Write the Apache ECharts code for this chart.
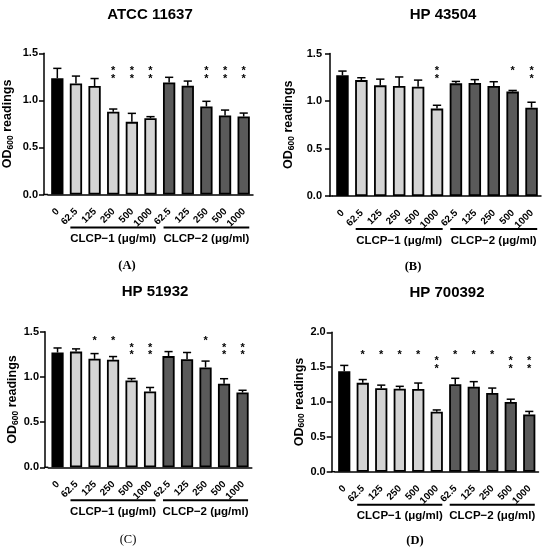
<!DOCTYPE html>
<html>
<head>
<meta charset="utf-8">
<script src="https://cdn.jsdelivr.net/npm/echarts@6/dist/echarts.min.js"></script>
<style>
html, body { margin: 0; padding: 0; background: #fff; }
#chart { width: 550px; height: 549px; }
</style>
</head>
<body>
<div id="chart"></div>
<script>
// doses on the x axis (0 = control, then CLCP-1 and CLCP-2 series)
var doses = ['0', '62.5', '125', '250', '500', '1000', '62.5', '125', '250', '500', '1000'];
var groupLabels = ['CLCP\u22121 (\u03bcg/ml)', 'CLCP\u22122 (\u03bcg/ml)'];
var groupRanges = [[1, 5], [6, 10]];
var titles = ['ATCC 11637', 'HP 43504', 'HP 51932', 'HP 700392'];
var panelTags = ['(A)', '(B)', '(C)', '(D)'];

// OD600 means and error (SD) per strain
var meanA = [1.235, 1.18, 1.152, 0.88, 0.772, 0.81, 1.19, 1.155, 0.935, 0.84, 0.828];
var errA  = [0.105, 0.078, 0.08, 0.028, 0.09, 0.017, 0.055, 0.05, 0.055, 0.057, 0.037];
var starsA = ['', '', '', '**', '**', '**', '', '', '**', '**', '**'];

var meanB = [1.27, 1.22, 1.165, 1.158, 1.15, 0.92, 1.186, 1.19, 1.158, 1.099, 0.93];
var errB  = [0.045, 0.025, 0.065, 0.095, 0.07, 0.035, 0.02, 0.035, 0.045, 0.012, 0.057];
var starsB = ['', '', '', '', '', '**', '', '', '', '*', '**'];

var meanC = [1.27, 1.28, 1.2, 1.19, 0.96, 0.838, 1.23, 1.195, 1.105, 0.925, 0.827];
var errC  = [0.05, 0.03, 0.058, 0.035, 0.022, 0.045, 0.05, 0.075, 0.07, 0.055, 0.025];
var starsC = ['', '', '*', '*', '**', '**', '', '', '*', '**', '**'];

var meanD = [1.44, 1.275, 1.197, 1.19, 1.187, 0.861, 1.255, 1.22, 1.13, 1.0, 0.82];
var errD  = [0.085, 0.047, 0.045, 0.035, 0.085, 0.025, 0.085, 0.072, 0.07, 0.04, 0.045];
var starsD = ['', '*', '*', '*', '*', '**', '*', '*', '*', '**', '**'];

var means = [meanA, meanB, meanC, meanD];
var errs = [errA, errB, errC, errD];
var stars = [starsA, starsB, starsC, starsD];

// layout of each panel
var panels = [
    {left: 48, top: 53.3, width: 205, height: 141.2, yMax: 1.5, yOffset: 4, nameGap: 29, labelMargin: 6,
     titleX: 150, titleY: 15, tagX: 127, tagY: 266, single: 1.34, double: [1.341, 1.259]},
    {left: 333, top: 53.5, width: 208, height: 142.5, yMax: 1.5, yOffset: 3, nameGap: 34, labelMargin: 8,
     titleX: 443, titleY: 15, tagX: 413, tagY: 267, single: 1.344, double: [1.344, 1.257]},
    {left: 48.3, top: 331.7, width: 203.5, height: 135.6, yMax: 1.5, yOffset: 3.3, nameGap: 25, labelMargin: 6,
     titleX: 155, titleY: 292, tagX: 128, tagY: 540, single: 1.427, double: [1.35, 1.265]},
    {left: 335, top: 332.3, width: 203.5, height: 139.4, yMax: 2.0, yOffset: 3.3, nameGap: 20, labelMargin: 6,
     titleX: 447, titleY: 293, tagX: 415, tagY: 541, single: 1.708, double: [1.627, 1.507]}
];

var sans = 'Liberation Sans';
var serif = 'Liberation Serif';

var chart = echarts.init(document.getElementById('chart'));

function barColor(i) {
    if (i === 0) return '#000000';
    return i <= 5 ? '#d4d4d4' : '#5a5a5a';
}

function renderError(params, api) {
    var i = api.value(0), m = api.value(1), s = api.value(2);
    var p0 = api.coord([i, m]);
    var p1 = api.coord([i, m + s]);
    var hw = api.size([1, 0])[0] * 0.22;
    return {
        type: 'group',
        children: [
            {type: 'line', shape: {x1: p0[0], y1: p0[1], x2: p1[0], y2: p1[1]}, style: {stroke: '#000', lineWidth: 1.5}},
            {type: 'line', shape: {x1: p1[0] - hw, y1: p1[1], x2: p1[0] + hw, y2: p1[1]}, style: {stroke: '#000', lineWidth: 1.5}}
        ]
    };
}

function starRenderer(panel, marks) {
    return function (params, api) {
        var i = api.value(0);
        var s = marks[i];
        if (!s) return;
        var levels = s.length === 1 ? [panel.single] : panel.double;
        return {
            type: 'group',
            children: levels.map(function (lv) {
                var p = api.coord([i, lv]);
                return {
                    type: 'text', x: p[0], y: p[1] + 2.5,
                    style: {text: '*', fill: '#000', font: 'bold 11px "' + sans + '"', textAlign: 'center', textVerticalAlign: 'middle'}
                };
            })
        };
    };
}

// rotated dose labels, group brackets and their captions
function groupRenderer(panel) {
    return function (params, api) {
        var w = api.size([1, 0])[0];
        var zero = api.coord([0, 0]);
        var y = zero[1] + 33;
        var children = [];
        // join the x axis line to the offset y axis
        children.push({type: 'line', shape: {x1: zero[0] - w / 2 - panel.yOffset - 0.7, y1: zero[1], x2: zero[0] - w / 2, y2: zero[1]},
            style: {stroke: '#000', lineWidth: 1.5}});
        doses.forEach(function (d, i) {
            var p = api.coord([i, 0]);
            children.push({type: 'text', x: p[0] + 0.3, y: p[1] + 15.4, rotation: Math.PI / 4,
                style: {text: d, fill: '#000', font: 'bold 9.8px "' + sans + '"', textAlign: 'right', textVerticalAlign: 'middle'}});
        });
        groupRanges.forEach(function (g, k) {
            var a = api.coord([g[0], 0])[0] - 0.3 * w;
            var b = api.coord([g[1], 0])[0] + 0.3 * w;
            children.push({type: 'line', shape: {x1: a, y1: y, x2: b, y2: y}, style: {stroke: '#000', lineWidth: 2}});
            children.push({type: 'text', x: (a + b) / 2, y: y + 11.5,
                style: {text: groupLabels[k], fill: '#000', font: 'bold 11.5px "' + sans + '"', textAlign: 'center', textVerticalAlign: 'middle'}});
        });
        return {type: 'group', children: children};
    };
}

var grids = [], xAxes = [], yAxes = [], series = [], graphics = [];

panels.forEach(function (p, k) {
    grids.push({left: p.left, top: p.top, width: p.width, height: p.height});
    xAxes.push({
        gridIndex: k,
        type: 'category',
        data: doses,
        axisLine: {lineStyle: {color: '#000', width: 1.5}},
        axisTick: {alignWithLabel: true, length: 4, lineStyle: {color: '#000', width: 1.5}},
        axisLabel: {show: false}
    });
    yAxes.push({
        gridIndex: k,
        type: 'value',
        min: 0,
        max: p.yMax,
        interval: 0.5,
        offset: p.yOffset,
        name: '{a|OD}{b|600}{a| readings}',
        nameLocation: 'middle',
        nameGap: p.nameGap,
        nameTextStyle: {
            rich: {
                a: {fontSize: 12.5, fontWeight: 'bold', color: '#000', fontFamily: sans},
                b: {fontSize: 8.5, fontWeight: 'bold', color: '#000', fontFamily: sans, padding: [5, 0, 0, 0]}
            }
        },
        splitLine: {show: false},
        axisLine: {show: true, lineStyle: {color: '#000', width: 1.5}},
        axisTick: {show: true, length: 5, lineStyle: {color: '#000', width: 1.5}},
        axisLabel: {
            margin: p.labelMargin, fontSize: 11, fontWeight: 'bold', color: '#000', fontFamily: sans,
            formatter: function (v) { return v.toFixed(1); }
        }
    });
    series.push({
        type: 'bar',
        xAxisIndex: k,
        yAxisIndex: k,
        barCategoryGap: '34%',
        data: means[k].map(function (v, i) {
            return {value: v, itemStyle: {color: barColor(i)}};
        }),
        itemStyle: {borderColor: '#000', borderWidth: 1.8},
        animation: false,
        z: 3
    });
    series.push({
        type: 'custom',
        xAxisIndex: k,
        yAxisIndex: k,
        renderItem: renderError,
        encode: {x: 0, y: 1},
        data: means[k].map(function (v, i) { return [i, v, errs[k][i]]; }),
        animation: false,
        z: 2
    });
    series.push({
        type: 'custom',
        xAxisIndex: k,
        yAxisIndex: k,
        renderItem: starRenderer(p, stars[k]),
        encode: {x: 0, y: 1},
        data: stars[k].map(function (s, i) { return [i, 0]; }),
        clip: false,
        animation: false,
        z: 4
    });
    series.push({
        type: 'custom',
        xAxisIndex: k,
        yAxisIndex: k,
        renderItem: groupRenderer(p),
        encode: {x: 0, y: 1},
        data: [[0, 0]],
        clip: false,
        animation: false,
        z: 4
    });
    graphics.push({
        type: 'text', x: p.titleX, y: p.titleY,
        style: {text: titles[k], fill: '#000', font: 'bold 15px "' + sans + '"', textAlign: 'center', textVerticalAlign: 'middle'}
    });
    graphics.push({
        type: 'text', x: p.tagX, y: p.tagY,
        style: {text: panelTags[k], fill: '#000', font: (k === 2 ? '' : 'bold ') + '12.5px "' + serif + '"', textAlign: 'center', textVerticalAlign: 'middle'}
    });
});

var option = {
    backgroundColor: '#fff',
    animation: false,
    grid: grids,
    xAxis: xAxes,
    yAxis: yAxes,
    series: series,
    graphic: graphics
};
chart.setOption(option);
</script>
</body>
</html>
